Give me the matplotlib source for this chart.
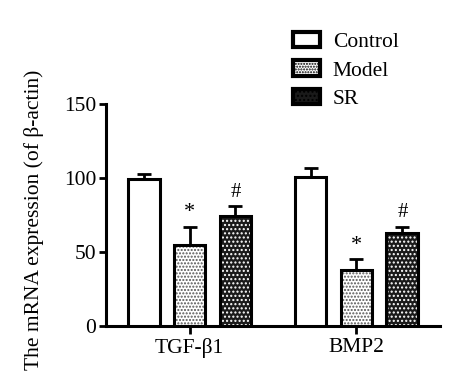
import numpy as np
import matplotlib.pyplot as plt
from matplotlib.patches import Patch

plt.rcParams['font.family'] = ['Liberation Serif', 'DejaVu Serif']
plt.rcParams['hatch.linewidth'] = 1.0

genes = ['TGF-β1', 'BMP2']
groups = ['Control', 'Model', 'SR']
control = [99, 101]
control_err = [4, 6]
model = [55, 38]
model_err = [12, 7]
sr = [74, 63]
sr_err = [7, 4]
marks_model = ['*', '*']
marks_sr = ['#', '#']

fig = plt.figure(figsize=(4.74, 3.87), dpi=100)
ax = fig.add_axes([0.224, 0.158, 0.704, 0.573])

x = np.arange(len(genes))
w = 0.19
off = 0.275

# bars: hatch layer first, then black outline on top
ax.bar(x - off, control, w, color='white', edgecolor='black', linewidth=2.2, zorder=3)
ax.bar(x, model, w, color='white', edgecolor='#555555', hatch='.....', linewidth=0, zorder=2)
ax.bar(x, model, w, fill=False, edgecolor='black', linewidth=2.2, zorder=3)
ax.bar(x + off, sr, w, color='#1a1a1a', edgecolor='white', hatch='....', linewidth=0, zorder=2)
ax.bar(x + off, sr, w, fill=False, edgecolor='black', linewidth=2.2, zorder=3)

# upper error bars only
for xs, vals, errs in [(x - off, control, control_err), (x, model, model_err), (x + off, sr, sr_err)]:
    ax.errorbar(xs, vals, yerr=[np.zeros(len(errs)), errs], fmt='none', ecolor='black',
                elinewidth=2, capsize=5, capthick=2, zorder=1)

for i in range(len(genes)):
    ax.text(x[i], model[i] + model_err[i] + 3, marks_model[i], ha='center', va='bottom', fontsize=16)
    ax.text(x[i] + off, sr[i] + sr_err[i] + 3, marks_sr[i], ha='center', va='bottom', fontsize=15)

ax.set_xlim(-0.5, 1.5)
ax.set_ylim(0, 150)
ax.set_yticks([0, 50, 100, 150])
ax.set_xticks(x)
ax.set_xticklabels(genes)
ax.tick_params(axis='both', labelsize=15.5, width=2, length=5, direction='out', pad=2)
ax.tick_params(axis='x', length=6, pad=3)
for s in ['top', 'right']:
    ax.spines[s].set_visible(False)
for s in ['left', 'bottom']:
    ax.spines[s].set_linewidth(2.2)
ax.set_ylabel('The mRNA expression (of β-actin)', fontsize=15.5)
ax.yaxis.set_label_coords(-0.186, 0.477)

# legend
handles = [
    Patch(facecolor='white', edgecolor='black', linewidth=3),
    Patch(facecolor='white', edgecolor='#555555', hatch='......', linewidth=3),
    Patch(facecolor='#1a1a1a', edgecolor='black', hatch='....', linewidth=3),
]
leg = fig.legend(handles, groups, loc='upper left', bbox_to_anchor=(0.577, 0.968), frameon=False,
                 fontsize=15.5, handlelength=1.25, handleheight=0.7, labelspacing=0.4,
                 handletextpad=0.6)
for h in leg.legend_handles:
    h.set_edgecolor('black')

fig.savefig('out.png', dpi=100)
